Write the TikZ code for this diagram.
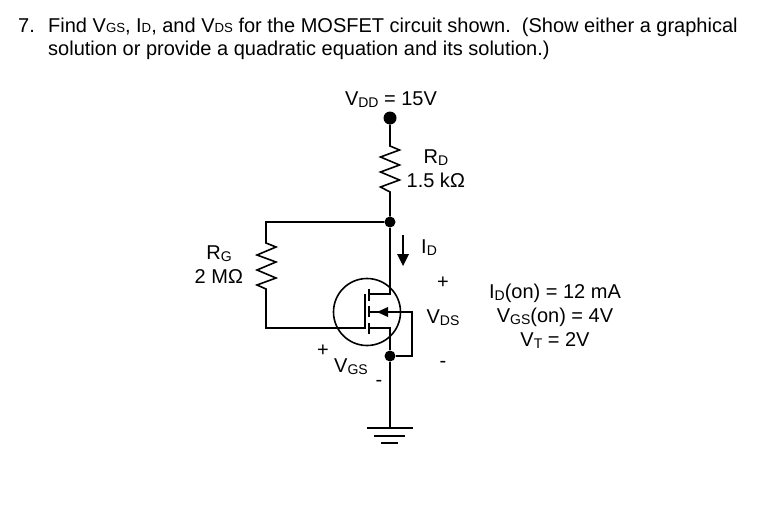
\documentclass[tikz,border=0pt]{standalone}
\usepackage{fontspec}
\setmainfont{Liberation Sans}
\usetikzlibrary{arrows.meta}
\newcommand{\sbs}[1]{\raisebox{-2.5pt}{\fontsize{14}{14}\selectfont #1}}
\newcommand{\sbt}[1]{{\fontsize{13.2}{14}\selectfont #1}}
\tikzset{
  wire/.style={line width=1.6pt,line join=miter,black},
  dot/.style={circle,fill=black,inner sep=0pt,minimum size=#1},
  lab/.style={inner sep=0pt,font=\fontsize{20}{24}\selectfont,text=black},
}
\begin{document}
\begin{tikzpicture}[x=1pt,y=-1pt]
\useasboundingbox[fill=white] (0,0) rectangle (775,514);
% question text
\node[lab,anchor=base west] (num) at (18,32) {7.};
\node[lab,anchor=base west] (q1) at (48,32) {Find V\sbt{GS}, I\sbt{D}, and V\sbt{DS} for the MOSFET circuit shown.\ \ (Show either a graphical};
\node[lab,anchor=base west] (q2) at (48,55) {solution or provide a quadratic equation and its solution.)};
% nodes on the main wire
\node[dot=13pt] (vdd) at (390,118) {};
\coordinate (rdt) at (390,146);
\coordinate (rdb) at (390,192);
\node[dot=11pt] (j1) at (390,222) {};
\coordinate (dr) at (390,294);
\coordinate (so) at (390,328);
\node[dot=11pt] (j2) at (390,356) {};
\coordinate (gnd) at (390,428);
% RD
\draw[wire] (vdd) -- (rdt) -- (399.5,150) -- (380.5,157) -- (399.5,165) -- (380.5,172) -- (399.5,180) -- (380.5,187) -- (rdb) -- (j1);
% RG
\coordinate (tl) at (266,222);
\coordinate (bl) at (266,328);
\coordinate (gb) at (365,328);
\coordinate (gt) at (365,294);
\draw[wire] (j1) -- (tl) -- (266,243) -- (276,247) -- (257,255) -- (276,262) -- (257,270) -- (276,278) -- (257,285) -- (266,289) -- (bl) -- (gb) -- (gt);
% MOSFET
\node[circle,draw=black,line width=1.6pt,inner sep=0pt,minimum size=67pt] (m) at (367,312) {};
\draw[wire] (j1) -- (dr) -- (369,294);
\draw[wire] (j2) -- (so) -- (369,328);
\draw[wire] (369,289) -- (369,301);
\draw[wire] (369,306) -- (369,317);
\draw[wire] (369,323) -- (369,334);
\coordinate (bd) at (412,312);
\coordinate (bb) at (412,356);
\draw[wire] (369,312) -- (bd) -- (bb) -- (j2);
\fill[black] (377,312) -- (388,307) -- (388,317) -- cycle;
% ground
\draw[wire] (j2) -- (gnd);
\draw[wire] (367,428) -- (413,428);
\draw[wire] (374,436) -- (405,436);
\draw[wire] (381,443) -- (398,443);
% ID arrow
\coordinate (ia) at (403,235);
\coordinate (ib) at (403,266);
\draw[wire] (ia) -- (403,255);
\fill[black] (ib) -- (397,254) -- (409,254) -- cycle;
% labels
\node[lab,anchor=base] (lvdd) at (391,105) {V\sbs{DD} = 15V};
\node[lab,anchor=base] (lrd) at (436,163) {R\sbs{D}};
\node[lab,anchor=base] (lrdv) at (436,187) {1.5 k\textohm};
\node[lab,anchor=base] (lrg) at (219,259) {R\sbs{G}};
\node[lab,anchor=base] (lrgv) at (219,283) {2 M\textohm};
\node[lab,anchor=base west] (lid) at (421,253) {I\sbs{D}};
\node[lab,anchor=base] (p1) at (443,288) {+};
\node[lab,anchor=base] (lvds) at (443,323) {V\sbs{DS}};
\node[lab,anchor=base] (m1) at (443,367) {-};
\node[lab,anchor=base] (p2) at (323,356) {+};
\node[lab,anchor=base] (lvgs) at (351,372) {V\sbs{GS}};
\node[lab,anchor=base] (m2) at (379,386) {-};
\node[lab,anchor=base] (e1) at (555,298) {I\sbs{D}(on) = 12 mA};
\node[lab,anchor=base] (e2) at (555,322) {V\sbs{GS}(on) = 4V};
\node[lab,anchor=base] (e3) at (555,346) {V\sbs{T} = 2V};
\end{tikzpicture}
\end{document}
